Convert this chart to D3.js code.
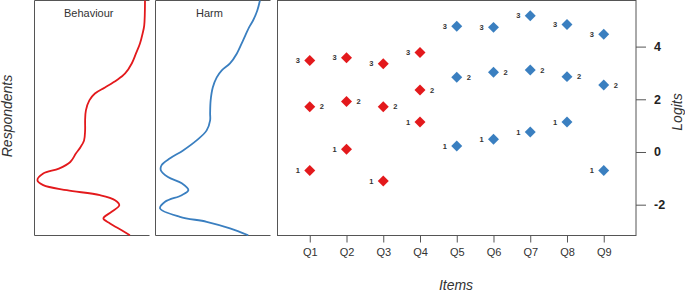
<!DOCTYPE html>
<html>
<head>
<meta charset="utf-8">
<script src="https://cdn.jsdelivr.net/npm/d3@7"></script>
<style>
  body { margin: 0; background: #fff; }
  text { font-family: "Liberation Sans", Arial, sans-serif; }
</style>
</head>
<body>
<div class="canvas"></div>
<script>
// items and their threshold locations (logits)
const items = ["Q1", "Q2", "Q3", "Q4", "Q5", "Q6", "Q7", "Q8", "Q9"];
const itemGroup = ["Behaviour", "Behaviour", "Behaviour", "Behaviour", "Harm", "Harm", "Harm", "Harm", "Harm"];
const threshold1 = [-0.70, 0.10, -1.10, 1.14, 0.23, 0.48, 0.76, 1.14, -0.70];
const threshold2 = [1.72, 1.92, 1.72, 2.35, 2.84, 3.03, 3.11, 2.86, 2.54];
const threshold3 = [3.47, 3.58, 3.35, 3.78, 4.77, 4.73, 5.17, 4.84, 4.47];
const logitTicks = [-2, 0, 2, 4];

// respondent density curves (logit, density)
const behaviourLogit = [5.75, 4.80, 4.50, 4.12, 3.74, 3.36, 2.98, 2.72, 2.45, 2.22, 1.96, 1.58, 1.20, 0.82, 0.44, 0.19, -0.06, -0.38, -0.63, -0.82, -1.07, -1.26, -1.45, -1.64, -1.83, -2.02, -2.27, -2.52, -2.71, -2.97, -3.16];
const behaviourDensity = [0, 0.003, 0.009, 0.019, 0.034, 0.050, 0.075, 0.107, 0.151, 0.189, 0.210, 0.223, 0.226, 0.226, 0.230, 0.243, 0.261, 0.282, 0.325, 0.384, 0.406, 0.384, 0.295, 0.170, 0.113, 0.097, 0.126, 0.157, 0.132, 0.088, 0.057];
const harmLogit = [5.75, 5.37, 4.99, 4.73, 4.23, 3.74, 3.36, 3.10, 2.83, 2.45, 1.96, 1.47, 1.20, 0.82, 0.44, 0.06, -0.24, -0.50, -0.69, -0.95, -1.19, -1.45, -1.64, -1.89, -2.14, -2.46, -2.65, -2.90, -3.16];
const harmDensity = [0.021, 0.031, 0.047, 0.062, 0.085, 0.108, 0.134, 0.165, 0.184, 0.199, 0.207, 0.209, 0.209, 0.222, 0.260, 0.311, 0.360, 0.392, 0.395, 0.368, 0.316, 0.291, 0.316, 0.379, 0.398, 0.323, 0.222, 0.134, 0.065];

const colors = { Behaviour: "#e3191c", Harm: "#3a7fc0" };
const frameColor = "#555";

const svgWidth = 685, svgHeight = 292;
const plotTop = 0.5, plotBottom = 235.5;
const main = { left: 277.5, right: 636 };

const svg = d3.select(".canvas").append("svg")
  .attr("width", svgWidth)
  .attr("height", svgHeight);

// shared logit scale
const yScale = d3.scaleLinear().domain([-3.17, 5.75]).range([plotBottom, plotTop]);

// ---- density panels ----
const panels = [
  { name: "Behaviour", left: 34.5, right: 149.5, base: 145, logit: behaviourLogit, dens: behaviourDensity },
  { name: "Harm", left: 155.5, right: 270.5, base: 265.5, logit: harmLogit, dens: harmDensity }
];

panels.forEach(p => {
  const xDens = d3.scaleLinear().domain([0, 0.42]).range([p.base, p.base - 111.3]);
  const g = svg.append("g");

  g.append("path")
    .attr("d", `M${p.right},${plotTop}H${p.left}V${plotBottom}H${p.right}`)
    .attr("fill", "none")
    .attr("stroke", frameColor)
    .attr("stroke-width", 1);

  const pts = p.logit.map((l, i) => [xDens(p.dens[i]), yScale(l)]);
  g.append("path")
    .datum(pts)
    .attr("d", d3.line().curve(d3.curveCatmullRom))
    .attr("fill", "none")
    .attr("stroke", colors[p.name])
    .attr("stroke-width", 1.8);

  g.append("text")
    .attr("x", (p.left + p.base) / 2 - 1)
    .attr("y", 17)
    .attr("text-anchor", "middle")
    .attr("font-size", 11)
    .attr("fill", "#333")
    .text(p.name);
});

svg.append("text")
  .attr("transform", "translate(12,116) rotate(-90)")
  .attr("text-anchor", "middle")
  .attr("font-size", 14)
  .attr("font-style", "italic")
  .attr("fill", "#333")
  .text("Respondents");

// ---- item map ----
const xScale = d3.scalePoint().domain(items).range([main.left, main.right]).padding(0.878);

svg.append("rect")
  .attr("x", main.left)
  .attr("y", plotTop)
  .attr("width", main.right - main.left)
  .attr("height", plotBottom - plotTop)
  .attr("fill", "none")
  .attr("stroke", frameColor);

const xAxis = svg.append("g")
  .attr("transform", `translate(0,${plotBottom})`)
  .call(d3.axisBottom(xScale).tickSize(7).tickPadding(6));
xAxis.select(".domain").remove();
xAxis.selectAll("line").attr("stroke", frameColor);
xAxis.selectAll("text")
  .attr("font-size", 11)
  .attr("fill", "#333")
  .attr("font-family", "Liberation Sans, Arial, sans-serif");

const yAxis = svg.append("g")
  .attr("transform", `translate(${main.right},0)`)
  .call(d3.axisRight(yScale).tickValues(logitTicks).tickSize(10).tickPadding(8));
yAxis.select(".domain").remove();
yAxis.selectAll("line").attr("stroke", frameColor);
yAxis.selectAll("text")
  .attr("font-size", 12.5)
  .attr("font-weight", "bold")
  .attr("fill", "#222")
  .attr("font-family", "Liberation Sans, Arial, sans-serif")
  .text(d => d);

svg.append("text")
  .attr("x", 456)
  .attr("y", 290)
  .attr("text-anchor", "middle")
  .attr("font-size", 14)
  .attr("font-style", "italic")
  .attr("fill", "#333")
  .text("Items");

svg.append("text")
  .attr("transform", "translate(682,112) rotate(-90)")
  .attr("text-anchor", "middle")
  .attr("font-size", 14)
  .attr("font-style", "italic")
  .attr("fill", "#333")
  .text("Logits");

// threshold points
const points = [];
items.forEach((q, i) => {
  [threshold1, threshold2, threshold3].forEach((t, k) => {
    points.push({ item: q, group: itemGroup[i], cat: k + 1, value: t[i] });
  });
});

const diamond = d3.symbol().type(d3.symbolSquare).size(60);

svg.selectAll(".pt")
  .data(points)
  .join("path")
  .attr("class", "pt")
  .attr("d", diamond)
  .attr("transform", d => `translate(${xScale(d.item)},${yScale(d.value)}) rotate(45)`)
  .attr("fill", d => colors[d.group]);

svg.selectAll(".lab")
  .data(points)
  .join("text")
  .attr("class", "lab")
  .attr("x", d => xScale(d.item) + (d.cat === 2 ? 12 : -12))
  .attr("y", d => yScale(d.value))
  .attr("dy", "0.35em")
  .attr("text-anchor", "middle")
  .attr("font-size", 7.5)
  .attr("font-weight", "bold")
  .attr("fill", "#333")
  .text(d => d.cat);
</script>
</body>
</html>
